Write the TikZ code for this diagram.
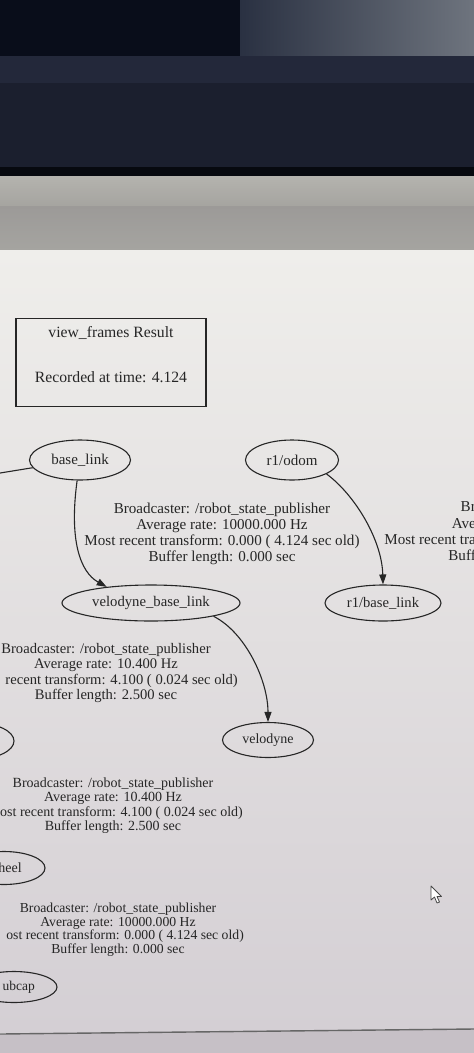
\documentclass[tikz,border=0pt]{standalone}
\usepackage{fontspec}
\setmainfont{Liberation Serif}
\usetikzlibrary{shapes.geometric,arrows.meta}
\definecolor{ink}{HTML}{262626}
\definecolor{bezeltop}{HTML}{090D1A}
\definecolor{reflA}{HTML}{2A3142}
\definecolor{reflB}{HTML}{6E747E}
\definecolor{bezel}{HTML}{1B1F2E}
\definecolor{bezelhi}{HTML}{23283A}
\definecolor{bezelblack}{HTML}{07090F}
\definecolor{bandA}{HTML}{B4B3AE}
\definecolor{bandB}{HTML}{A5A4A0}
\definecolor{bandC}{HTML}{9C9A98}
\definecolor{screentop}{HTML}{EFEEEB}
\definecolor{screenbot}{HTML}{D4CFD4}
\definecolor{deskgrey}{HTML}{C6C0C6}
\tikzset{
  fr/.style={ellipse, draw=ink, line width=1.1pt, inner sep=0pt, text=ink},
  lbl/.style={text=ink, inner sep=0pt, anchor=base},
  lblE/.style={text=ink, inner sep=0pt, anchor=base east},
  tfedge/.style={draw=ink, line width=1.1pt, -{Triangle[length=10pt,width=7pt]}},
  plain/.style={draw=ink, line width=1.1pt},
  fA/.style={font=\fontsize{15.1}{16}\selectfont},
  fB/.style={font=\fontsize{14.6}{15.5}\selectfont},
  fC/.style={font=\fontsize{14}{14.5}\selectfont},
  fD/.style={font=\fontsize{13.7}{14}\selectfont}
}
\begin{document}
\begin{tikzpicture}[x=1pt,y=-1pt]
\useasboundingbox (0,0) rectangle (474,1053);
\clip (0,0) rectangle (474,1053);
% ---- photo background: monitor bezel and screen ----
\fill[bezeltop] (0,0) rectangle (240,56);
\shade[left color=reflA, right color=reflB] (240,0) rectangle (474,56);
\fill[bezelhi] (0,56) rectangle (474,83);
\fill[bezel] (0,83) rectangle (474,167);
\fill[bezelblack] (0,167) rectangle (474,176);
\shade[top color=bandA, bottom color=bandB] (0,176) rectangle (474,206);
\shade[top color=bandC, bottom color=bandB] (0,206) rectangle (474,250);
\shade[top color=screentop, bottom color=screenbot] (0,250) rectangle (474,1032);
\fill[deskgrey] (0,1034) -- (474,1029) -- (474,1053) -- (0,1053) -- cycle;
\draw[gray!80!black, line width=1.4pt] (0,1034) -- (474,1029);

% ---- title box ----
\node[draw=ink, line width=1.6pt, minimum width=190pt, minimum height=88pt, inner sep=0pt] (title) at (111,362.5) {};
\node[lbl, font=\fontsize{15.7}{17}\selectfont] (titleA) at (111,337) {view\_frames Result};
\node[lbl, font=\fontsize{15.7}{17}\selectfont] (titleB) at (111,382) {Recorded at time: 4.124};

% ---- frames ----
\node[fr, minimum width=101pt, minimum height=40pt, font=\fontsize{15}{16}\selectfont] (bl) at (80,460) {base\_link};
\node[fr, minimum width=93pt, minimum height=40pt, font=\fontsize{15}{16}\selectfont] (odom) at (292,460) {r1/odom};
\node[fr, minimum width=178pt, minimum height=36pt, font=\fontsize{14.7}{16}\selectfont] (vbl) at (151,603) {velodyne\_base\_link};
\node[fr, minimum width=116pt, minimum height=36pt, font=\fontsize{14.6}{16}\selectfont] (rbl) at (383,603) {r1/base\_link};
\node[fr, minimum width=91pt, minimum height=35pt, font=\fontsize{14}{16}\selectfont] (vel) at (268,740) {velodyne};
\node[fr, minimum width=76pt, minimum height=36pt] (lftA) at (-24,741) {};
\node[fr, minimum width=82pt, minimum height=33pt] (whl) at (4,868) {};
\node[lblE, font=\fontsize{14}{16}\selectfont] (whlT) at (22,872) {heel};
\node[fr, minimum width=86pt, minimum height=31pt] (hub) at (14,987) {};
\node[lblE, font=\fontsize{13.5}{16}\selectfont] (hubT) at (35,990) {ubcap};
\coordinate (offL) at (-6,474);

% ---- connectors ----
\draw[plain] (offL) -- (bl);
\draw[tfedge] (bl.262) .. controls (69,540) and (80,572) .. (vbl.160);
\draw[tfedge] (odom.338) .. controls (355,495) and (382,540) .. (rbl.north);
\draw[tfedge] (vbl.348) .. controls (245,632) and (268,680) .. (vel.north);

% ---- edge labels ----
\node[lbl, fA] (a1) at (222,513) {Broadcaster: /robot\_state\_publisher};
\node[lbl, fA] (a2) at (222,529) {Average rate: 10000.000 Hz};
\node[lbl, fA] (a3) at (222,545) {Most recent transform: 0.000 ( 4.124 sec old)};
\node[lbl, fA] (a4) at (222,561) {Buffer length: 0.000 sec};

\node[lblE, fA] (r1) at (476,511) {Br};
\node[lblE, fA] (r2) at (476,528) {Ave};
\node[lblE, fA] (r3) at (476,544) {Most recent tra};
\node[lblE, fA] (r4) at (476,560) {Buff};

\node[lbl, fB] (b1) at (106,653) {Broadcaster: /robot\_state\_publisher};
\node[lbl, fB] (b2) at (106,668) {Average rate: 10.400 Hz};
\node[lblE, fB] (b3) at (238,684) {recent transform: 4.100 ( 0.024 sec old)};
\node[lbl, fB] (b4) at (106,699) {Buffer length: 2.500 sec};

\node[lbl, fC] (c1) at (113,787) {Broadcaster: /robot\_state\_publisher};
\node[lbl, fC] (c2) at (113,801) {Average rate: 10.400 Hz};
\node[lblE, fC] (c3) at (243,816) {ost recent transform: 4.100 ( 0.024 sec old)};
\node[lbl, fC] (c4) at (113,830) {Buffer length: 2.500 sec};

\node[lbl, fD] (d1) at (118,912) {Broadcaster: /robot\_state\_publisher};
\node[lbl, fD] (d2) at (118,926) {Average rate: 10000.000 Hz};
\node[lblE, fD] (d3) at (244,939) {ost recent transform: 0.000 ( 4.124 sec old)};
\node[lbl, fD] (d4) at (118,953) {Buffer length: 0.000 sec};

% ---- mouse pointer ----
\draw[ink!85, fill=white, line width=0.8pt, line join=round] (431,886) -- (431,900) -- (434.5,897) -- (437,903) -- (439.5,902) -- (437,896.5) -- (441.5,896.5) -- cycle;
\end{tikzpicture}
\end{document}
